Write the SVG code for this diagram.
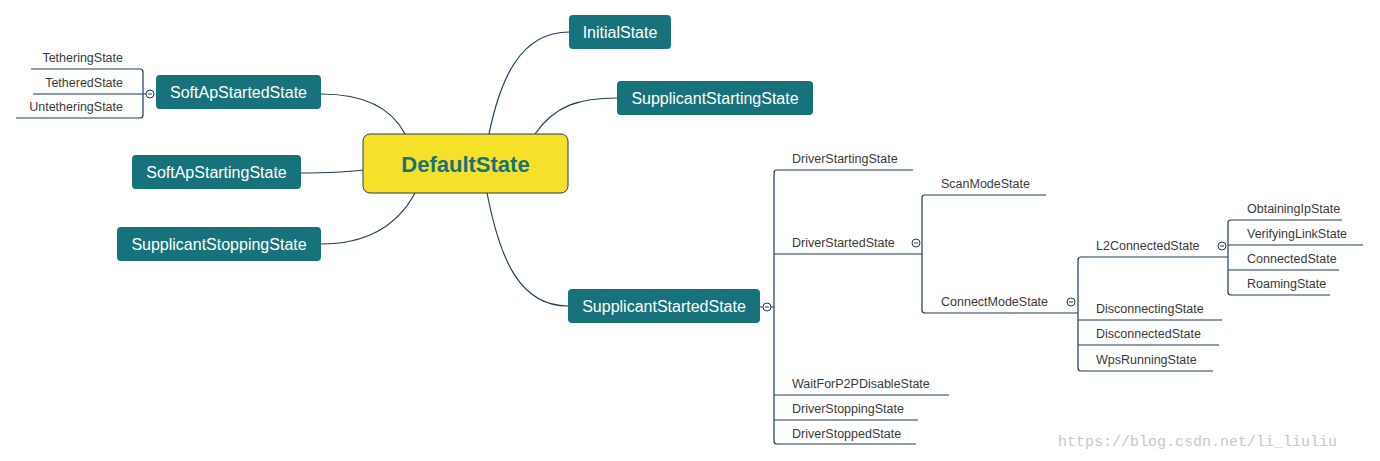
<svg xmlns="http://www.w3.org/2000/svg" width="1380" height="461" viewBox="0 0 1380 461">
<style>
.n{fill:#17727c;}
.nt{font-family:"Liberation Sans",Arial,sans-serif;font-size:16px;fill:#fff;text-anchor:middle;}
.l{font-family:"Liberation Sans",Arial,sans-serif;font-size:12.5px;fill:#3a3a3a;}
.r{text-anchor:end;}
.c{fill:none;stroke:#1f3d5a;stroke-width:1.2;}
.o{fill:#fff;stroke:#1f3d5a;stroke-width:1;}
</style>
<rect width="1380" height="461" fill="#fff"/>
<g id="connectors">
<path class="c" d="M489,134 C500,80 520,32 569,32"/>
<path class="c" d="M535,134 C555,105 580,98 617,98"/>
<path class="c" d="M405,134 C390,105 360,94 321,94"/>
<path class="c" d="M363,170 C340,173 320,173 301,173"/>
<path class="c" d="M415,193 C395,230 360,244 321,244"/>
<path class="c" d="M487,193 C500,260 520,306 568,306"/>
<path class="c" d="M31,69 H140 Q143,69 143,72 V115 Q143,118 140,118 H16 M33,94 H146"/>
<path class="c" d="M760,307 H774 M913,170 H777 Q774,170 774,173 V441 Q774,444 777,444 H916 M774,254 H922 M774,395 H949 M774,420 H918"/>
<path class="c" d="M1046,195 H925 Q922,195 922,198 V310 Q922,313 925,313 H1078 M922,254 V254"/>
<path class="c" d="M1228,257 H1081 Q1078,257 1078,260 V368 Q1078,371 1081,371 H1213 M1078,320 H1222 M1078,345 H1219"/>
<path class="c" d="M1342,220 H1231 Q1228,220 1228,223 V292 Q1228,295 1231,295 H1330 M1228,245 H1363 M1228,270 H1339"/>
<circle class="o" cx="150" cy="94" r="4"/>
<circle class="o" cx="767" cy="307" r="4"/>
<circle class="o" cx="916" cy="243" r="4"/>
<circle class="o" cx="1071" cy="302" r="4"/>
<circle class="o" cx="1222" cy="246" r="4"/>
<path d="M148,94h4M765,307h4M914,243h4M1069,302h4M1220,246h4" stroke="#1f3d5a" stroke-width="1"/>
</g>
<g id="DefaultState"><rect x="363" y="134" width="205" height="59" rx="7" fill="#f5e12a" stroke="#2b3a4a" stroke-width="1"/><text x="465.5" y="172" font-family="Liberation Sans,Arial,sans-serif" font-size="22" font-weight="bold" fill="#17727c" text-anchor="middle">DefaultState</text></g>
<g id="InitialState"><rect class="n" x="569" y="15" width="102" height="34" rx="4"/><text class="nt" x="620" y="38">InitialState</text></g>
<g id="SupplicantStartingState"><rect class="n" x="617" y="81" width="196" height="34" rx="4"/><text class="nt" x="715" y="104">SupplicantStartingState</text></g>
<g id="SoftApStartedState"><rect class="n" x="156" y="75" width="165" height="34" rx="4"/><text class="nt" x="238.5" y="98">SoftApStartedState</text></g>
<g id="SoftApStartingState"><rect class="n" x="132" y="155" width="169" height="34" rx="4"/><text class="nt" x="216.5" y="178">SoftApStartingState</text></g>
<g id="SupplicantStoppingState"><rect class="n" x="117" y="227" width="204" height="34" rx="4"/><text class="nt" x="219" y="250">SupplicantStoppingState</text></g>
<g id="SupplicantStartedState"><rect class="n" x="568" y="289" width="192" height="34" rx="4"/><text class="nt" x="664" y="312">SupplicantStartedState</text></g>
<g id="TetheringState"><text class="l r" x="123" y="62">TetheringState</text></g>
<g id="TetheredState"><text class="l r" x="123" y="87">TetheredState</text></g>
<g id="UntetheringState"><text class="l r" x="123" y="111">UntetheringState</text></g>
<g id="DriverStartingState"><text class="l" x="792" y="163">DriverStartingState</text></g>
<g id="DriverStartedState"><text class="l" x="792" y="247">DriverStartedState</text></g>
<g id="ScanModeState"><text class="l" x="941" y="188">ScanModeState</text></g>
<g id="ConnectModeState"><text class="l" x="941" y="306">ConnectModeState</text></g>
<g id="L2ConnectedState"><text class="l" x="1096" y="250">L2ConnectedState</text></g>
<g id="ObtainingIpState"><text class="l" x="1247" y="213">ObtainingIpState</text></g>
<g id="VerifyingLinkState"><text class="l" x="1247" y="238">VerifyingLinkState</text></g>
<g id="ConnectedState"><text class="l" x="1247" y="263">ConnectedState</text></g>
<g id="RoamingState"><text class="l" x="1247" y="288">RoamingState</text></g>
<g id="DisconnectingState"><text class="l" x="1096" y="313">DisconnectingState</text></g>
<g id="DisconnectedState"><text class="l" x="1096" y="338">DisconnectedState</text></g>
<g id="WpsRunningState"><text class="l" x="1096" y="364">WpsRunningState</text></g>
<g id="WaitForP2PDisableState"><text class="l" x="792" y="388">WaitForP2PDisableState</text></g>
<g id="DriverStoppingState"><text class="l" x="792" y="413">DriverStoppingState</text></g>
<g id="DriverStoppedState"><text class="l" x="792" y="438">DriverStoppedState</text></g>
<text x="1058" y="446" font-family="Liberation Mono,monospace" font-size="15" fill="#c8c8c8">https://blog.csdn.net/li_liuliu</text>
</svg>
